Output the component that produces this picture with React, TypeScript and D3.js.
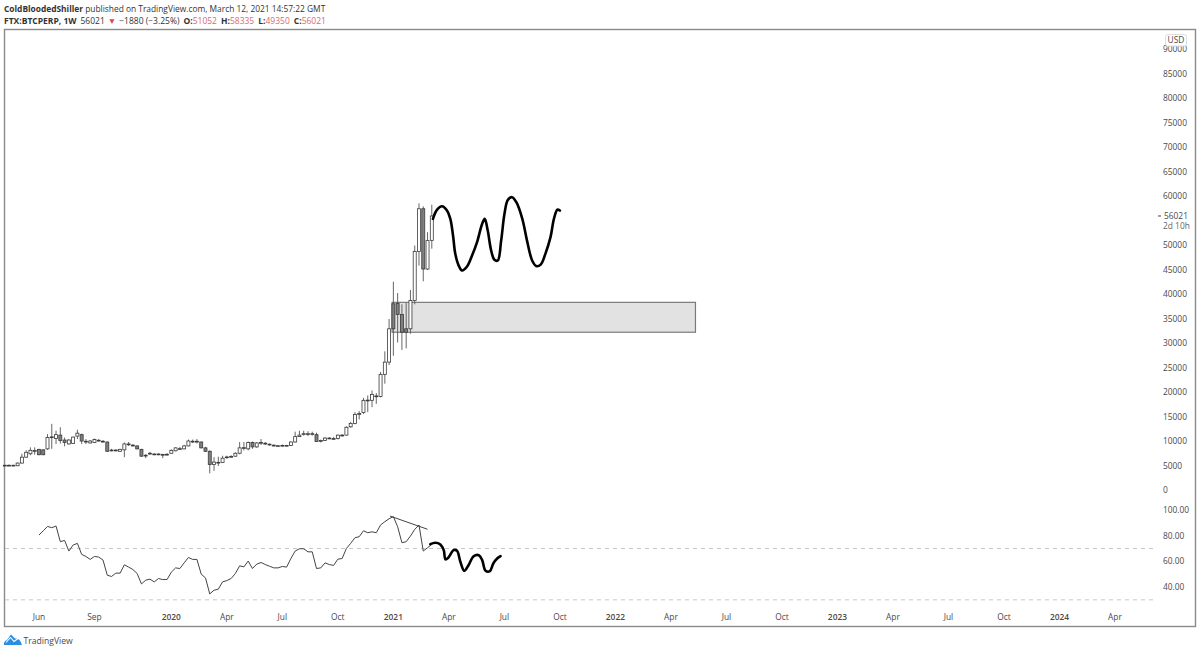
import * as d3 from "d3"

// weekly candles, FTX:BTCPERP
const opens = [5100,5150,5100,5050,5600,6800,7500,8100,8400,8300,8500,10900,10600,11300,10300,9500,9600,11100,11400,10000,9700,9800,10200,10000,9900,8200,8200,8000,8300,9500,9200,9100,8400,7100,7500,7400,7400,7300,7300,7600,8100,8500,8500,9100,10000,10000,9900,8700,8000,5300,5700,5700,6800,6900,7000,7600,8700,8500,9800,8900,9750,9600,9400,9200,9100,9150,9150,9200,9900,11000,11500,11550,11500,11400,10100,10200,10650,10550,10600,11200,11300,13000,13700,15600,15900,18400,18400,19300,19200,23700,26200,38100,38200,35900,33000,33000,38800,48800,57500,45200,51052]
const closes = [5150,5100,5150,5600,6800,7800,8200,8150,7300,7300,10800,10950,11400,10200,9800,10300,10900,11700,10100,10050,10100,10400,10250,10050,8000,8250,8250,8400,9500,9400,9250,8500,7000,7200,7600,7450,7450,7350,7400,8200,8700,8550,9100,10100,10050,10050,8700,8000,5300,5800,5750,6600,6850,6950,7600,8700,8750,9800,8900,9700,9800,9650,9450,9250,9150,9200,9200,9900,11000,11300,11600,11600,11600,10000,10200,10700,10700,10600,11300,11300,12900,13700,15500,15700,18400,18450,19600,19200,23700,26200,33000,33000,35900,32300,32300,38800,48800,57500,45200,51000,56021]
const highs = [5250,5300,5250,5700,7500,8200,8800,8800,8500,8400,11500,13600,12200,12900,10800,10500,11000,12400,11600,10500,10300,10600,10500,10300,10000,8500,8400,8500,9800,9900,9500,9200,8500,7400,7900,7600,7600,7500,7600,8400,8800,8900,9300,10400,10400,10500,10000,8900,8200,6800,6900,7100,7100,7200,7800,9900,9900,10000,10000,9900,10500,9900,9600,9400,9300,9400,9300,10000,12000,12200,12200,12100,12000,11800,10400,10900,10900,10900,11400,11500,13100,14000,16000,16200,18900,19400,20400,19900,24200,28400,35000,42600,40300,38000,38300,40900,50000,58600,58000,52700,58335]
const lows = [5000,5000,5000,5000,5500,6700,7200,7300,7200,7200,8300,8500,9500,9600,9000,9400,9500,10500,9500,9500,9600,9700,10000,9800,7900,8000,8000,7900,6800,9100,9000,8400,6900,6600,7300,7200,7200,6600,7100,7500,8000,8300,8400,9000,9700,9600,8600,7900,3500,4000,5000,5600,6500,6700,6900,7400,8200,8200,8500,8700,9300,9300,9200,9000,9000,9000,9000,9100,9800,10900,11200,11100,11200,9900,9800,10100,10500,10400,10400,11000,11200,12800,13500,14500,15600,16000,17000,17700,19000,21800,25600,27500,30200,28700,29000,32000,38000,45900,42700,45000,49350]

// RSI starts later than the price, lined up with the last candles
const rsi = [80.5,83.8,87.2,86.2,87.5,75.3,76.3,68,72.7,74,65.4,63.8,61.5,63.8,63.3,61,49.2,48.2,50.8,50.8,57.3,55.5,53.6,50.5,42.4,45.3,46.1,44,46.6,45.8,45.8,51.6,54.9,54.4,58.8,63,61.5,61.5,50,47.1,34.6,37.5,38.3,44,45,46.6,50.5,56.5,55.7,60.2,54.4,57.8,59.1,57.5,56.2,54.9,54.9,56,55.5,62.2,68,69.8,69.8,67.4,67.4,54.4,54.9,58.8,57.5,56.8,61.7,62.2,70,74,78.4,79.2,83.8,82.3,83,82.3,88.3,90.9,93.2,94.8,87,74.5,75.3,79.7,84.9,88.3,68,70.6,73.2]

// hand drawn projection on price
const drawWeeks = [100.27,101.2,102.4,103.56,104.34,104.97,105.5,106.3,107.08,108.25,109.43,110.6,111.78,112.4,113.1,113.9,114.67,115.45,116.24,117.02,117.8,118.8,119.8,121.2,122.3,123.5,124.45,125.5,126.6,127.8,128.6,129.4,130]
const drawPrices = [55440,57270,58020,57140,55440,52040,48300,45900,44900,45700,47960,50700,54400,55440,53060,48980,47070,46940,51000,56460,59300,59860,58840,55440,51000,46940,45800,46100,48300,51700,55440,57300,57140]

// hand drawn projection on RSI
const rsiDrawWeeks = [99.65,100.8,102,102.8,103.2,103.9,105.1,105.9,106.7,107.6,108.6,109.8,111,111.8,112.6,113.6,114.4,115.3,116.1]
const rsiDrawValues = [73.4,74.5,73.2,68.7,61.5,63,68.7,68.2,59.6,52.6,57,64,64.8,60.9,52.6,52.3,58.3,62.2,64]

// RSI divergence line
const trendWeeks = [90.2, 99]
const trendValues = [95.3, 85]

// zone box
const zoneWeeks = [90.7, 161.75]
const zonePrices = [32300, 38400]

const priceTicks = [0,5000,10000,15000,20000,25000,30000,35000,40000,45000,50000,60000,65000,70000,75000,80000,85000,90000]
const rsiTicks = [100, 80, 60, 40]
const rsiLevels = [70, 30]
const timeLabels = ["Jun","Sep","2020","Apr","Jul","Oct","2021","Apr","Jul","Oct","2022","Apr","Jul","Oct","2023","Apr","Jul","Oct","2024","Apr"]
const timeWeeks = [8,21,39,52,65,78,91,104,117,130,143,156,169,182,195,208,221,234,247,260]
const yearLabels = ["2020","2021","2022","2023","2024"]

const lastPrice = 56021
const font = "'Open Sans', sans-serif"
const textColor = "#4a4a4a"
const frameColor = "#8a8a8a"
const axisSize = 8.4

export default function App() {
  const x = d3.scaleLinear().domain([0, 260]).range([4.8, 1115])
  const y = d3.scaleLinear().domain([0, 90000]).range([490.5, 49.5])
  const yRsi = d3.scaleLinear().domain([40, 100]).range([587, 510])

  const rsiLine = d3.line<number>()
    .x((_, i) => x(opens.length - rsi.length + i))
    .y((d) => yRsi(d))

  const drawLine = d3.line<number>()
    .x((_, i) => x(drawWeeks[i]))
    .y((d) => y(d))
    .curve(d3.curveCatmullRom)

  const rsiDrawLine = d3.line<number>()
    .x((_, i) => x(rsiDrawWeeks[i]))
    .y((d) => yRsi(d))
    .curve(d3.curveCatmullRom)

  return (
    <svg width={1200} height={652} style={{ position: "fixed", left: 0, top: 0, display: "block", background: "#fff" }} fontFamily={font}>
      {/* header */}
      <text x={4} y={12} fontSize={8.4} fill="#333">
        <tspan fontWeight={700}>ColdBloodedShiller</tspan> published on TradingView.com, March 12, 2021 14:57:22 GMT
      </text>
      <text x={4} y={23.5} fontSize={8.5} fill="#333">
        <tspan fontWeight={700}>FTX:BTCPERP, 1W</tspan>
        <tspan dx={4}>56021</tspan>
        <tspan dx={3} fill="#e0454f">▼</tspan>
        <tspan dx={3}>−1880 (−3.25%)</tspan>
        <tspan dx={4} fontWeight={700}>O:</tspan><tspan fill="#e0686f">51052</tspan>
        <tspan dx={4} fontWeight={700}>H:</tspan><tspan fill="#e0686f">58335</tspan>
        <tspan dx={4} fontWeight={700}>L:</tspan><tspan fill="#e0686f">49350</tspan>
        <tspan dx={4} fontWeight={700}>C:</tspan><tspan fill="#e0686f">56021</tspan>
      </text>

      {/* frame */}
      <rect x={4.5} y={29.5} width={1191} height={597} fill="none" stroke={frameColor} strokeWidth={1.4} />

      {/* zone */}
      <rect
        x={x(zoneWeeks[0])}
        y={y(zonePrices[1])}
        width={x(zoneWeeks[1]) - x(zoneWeeks[0])}
        height={y(zonePrices[0]) - y(zonePrices[1])}
        fill="#e2e2e2"
        stroke="#7a7a7a"
        strokeWidth={1.2}
      />

      {/* candles */}
      {opens.map((o, i) => {
        const c = closes[i]
        const top = y(Math.max(o, c))
        const h = Math.max(y(Math.min(o, c)) - top, 0.8)
        return (
          <g key={i}>
            <line x1={x(i)} x2={x(i)} y1={y(highs[i])} y2={y(lows[i])} stroke="#555" strokeWidth={0.9} />
            <rect x={x(i) - 1.5} y={top} width={3} height={h} fill={c < o ? "#808080" : "#fff"} stroke="#3a3a3a" strokeWidth={0.8} />
          </g>
        )
      })}

      {/* projection */}
      <path d={drawLine(drawPrices) ?? ""} fill="none" stroke="#000" strokeWidth={2.6} strokeLinecap="round" strokeLinejoin="round" />

      {/* RSI */}
      {rsiLevels.map((v) => (
        <line key={v} x1={5} x2={1155} y1={yRsi(v)} y2={yRsi(v)} stroke="#c8c8c8" strokeWidth={1} strokeDasharray="4 4" />
      ))}
      <path d={rsiLine(rsi) ?? ""} fill="none" stroke="#444" strokeWidth={1} />
      <line x1={x(trendWeeks[0])} x2={x(trendWeeks[1])} y1={yRsi(trendValues[0])} y2={yRsi(trendValues[1])} stroke="#444" strokeWidth={1} />
      <path d={rsiDrawLine(rsiDrawValues) ?? ""} fill="none" stroke="#000" strokeWidth={2.6} strokeLinecap="round" strokeLinejoin="round" />

      {/* price scale */}
      {priceTicks.map((t) => (
        <text key={t} x={1163} y={y(t)} dy="0.35em" fontSize={axisSize} fill={textColor}>{t}</text>
      ))}
      <line x1={1158} x2={1161} y1={y(lastPrice)} y2={y(lastPrice)} stroke="#444" />
      <text x={1164} y={y(lastPrice)} dy="0.35em" fontSize={axisSize} fill={textColor}>{lastPrice}</text>
      <text x={1163} y={y(lastPrice) + 10.5} dy="0.35em" fontSize={axisSize} fill="#666">2d 10h</text>
      <rect x={1165.5} y={34.5} width={21} height={11.5} rx={2} fill="#fff" stroke="#ddd" />
      <text x={1176} y={40} dy="0.35em" textAnchor="middle" fontSize={axisSize} fill={textColor}>USD</text>

      {/* RSI scale */}
      {rsiTicks.map((t) => (
        <text key={t} x={1163} y={yRsi(t)} dy="0.35em" fontSize={axisSize} fill={textColor}>{t.toFixed(2)}</text>
      ))}

      {/* time axis */}
      {timeWeeks.map((w, i) => (
        <text
          key={w}
          x={x(w)}
          y={620}
          textAnchor="middle"
          fontSize={axisSize}
          fontWeight={yearLabels.includes(timeLabels[i]) ? 600 : 400}
          fill={textColor}
        >
          {timeLabels[i]}
        </text>
      ))}

      {/* logo */}
      <path d="M4 645 Q3.5 641 7 640 L11 634.5 L15 638.5 Q20 637.5 22 645 Z" fill="#2a8fe0" />
      <path d="M6 642.5 L10.5 637.5 L14 641.5 L18 638.5" fill="none" stroke="#fff" strokeWidth={1.1} />
      <text x={23.5} y={643.5} fontSize={8.6} fill="#4a4a4a">TradingView</text>
    </svg>
  )
}
